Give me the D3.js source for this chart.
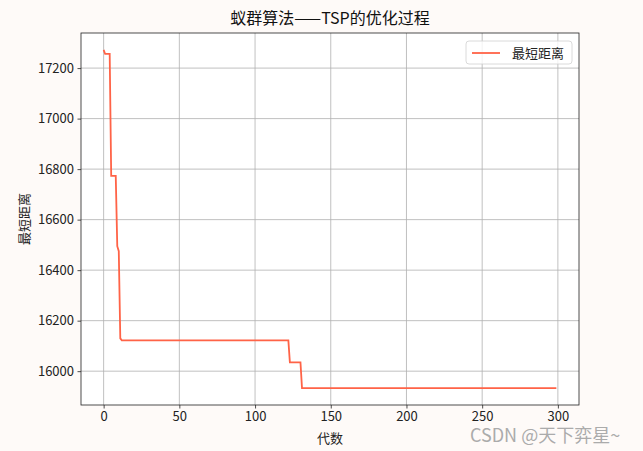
<!DOCTYPE html>
<html>
<head>
<meta charset="utf-8">
<script src="https://cdn.jsdelivr.net/npm/d3@7"></script>
<style>
  body { margin: 0; background: #fefaf8; }
  text { font-family: "Noto Sans CJK SC", "Noto Sans", sans-serif; }
</style>
</head>
<body>
<div class="chart"></div>
<script>
var svgWidth = 643;
var svgHeight = 451;

var margin = { top: 33, right: 64, bottom: 46, left: 81 };
var width = svgWidth - margin.left - margin.right;
var height = svgHeight - margin.top - margin.bottom;

// generations where the best distance changes (held flat in between)
var gens = [0, 1, 4, 5, 8, 9, 10, 11, 12, 122, 123, 130, 131, 299];
var dist = [17272, 17256, 17256, 16773, 16773, 16495, 16475, 16130, 16122, 16122, 16035, 16035, 15933, 15933];

var xTicks = [0, 50, 100, 150, 200, 250, 300];
var yTicks = [16000, 16200, 16400, 16600, 16800, 17000, 17200];

var svg = d3.select(".chart")
  .append("svg")
  .attr("width", svgWidth)
  .attr("height", svgHeight);

svg.append("rect")
  .attr("width", svgWidth)
  .attr("height", svgHeight)
  .attr("fill", "#fefaf8");

var chartGroup = svg.append("g")
  .attr("transform", `translate(${margin.left}, ${margin.top})`);

// matplotlib style 5% padding
var xMin = d3.min(gens), xMax = d3.max(gens);
var yMin = d3.min(dist), yMax = d3.max(dist);
var xPad = (xMax - xMin) * 0.05, yPad = (yMax - yMin) * 0.05;

var xScale = d3.scaleLinear()
  .domain([xMin - xPad, xMax + xPad])
  .range([0, width]);

var yScale = d3.scaleLinear()
  .domain([yMin - yPad, yMax + yPad])
  .range([height, 0]);

chartGroup.append("rect")
  .attr("width", width)
  .attr("height", height)
  .attr("fill", "white");

// grid
chartGroup.append("g")
  .selectAll("line")
  .data(xTicks)
  .enter()
  .append("line")
  .attr("x1", d => xScale(d))
  .attr("x2", d => xScale(d))
  .attr("y1", 0)
  .attr("y2", height)
  .attr("stroke", "#b0b0b0")
  .attr("stroke-width", 0.8);

chartGroup.append("g")
  .selectAll("line")
  .data(yTicks)
  .enter()
  .append("line")
  .attr("x1", 0)
  .attr("x2", width)
  .attr("y1", d => yScale(d))
  .attr("y2", d => yScale(d))
  .attr("stroke", "#b0b0b0")
  .attr("stroke-width", 0.8);

// the line
var line = d3.line()
  .x((d, i) => xScale(gens[i]))
  .y(d => yScale(d));

chartGroup.append("path")
  .datum(dist)
  .attr("d", line)
  .attr("fill", "none")
  .attr("stroke", "tomato")
  .attr("stroke-width", 1.8);

// axes
var bottomAxis = d3.axisBottom(xScale).tickValues(xTicks).tickSize(3.5).tickPadding(3.5);
var leftAxis = d3.axisLeft(yScale).tickValues(yTicks).tickSize(3.5).tickPadding(3.5).tickFormat(d3.format("d"));

var xAxis = chartGroup.append("g")
  .attr("transform", `translate(0, ${height})`)
  .call(bottomAxis);

var yAxis = chartGroup.append("g")
  .call(leftAxis);

[xAxis, yAxis].forEach(function (ax) {
  ax.select(".domain").remove();
  ax.selectAll(".tick line").attr("stroke", "#222").attr("stroke-width", 0.8);
  ax.selectAll(".tick text")
    .attr("fill", "#222")
    .style("font-size", "13px")
    .style("font-family", "'Noto Sans CJK SC', sans-serif");
});

// frame
chartGroup.append("rect")
  .attr("width", width)
  .attr("height", height)
  .attr("fill", "none")
  .attr("stroke", "#222")
  .attr("stroke-width", 0.8);

// title and axis labels
svg.append("text")
  .attr("x", margin.left + width / 2)
  .attr("y", 24)
  .attr("text-anchor", "middle")
  .attr("fill", "#111")
  .style("font-size", "16px")
  .text("蚁群算法——TSP的优化过程");

svg.append("text")
  .attr("x", margin.left + width / 2)
  .attr("y", 443)
  .attr("text-anchor", "middle")
  .attr("fill", "#222")
  .style("font-size", "13px")
  .text("代数");

svg.append("text")
  .attr("transform", `translate(29, ${margin.top + height / 2}) rotate(-90)`)
  .attr("text-anchor", "middle")
  .attr("fill", "#222")
  .style("font-size", "13px")
  .text("最短距离");

// legend
var legend = chartGroup.append("g")
  .attr("transform", `translate(${width - 113}, 8)`);

legend.append("rect")
  .attr("width", 106)
  .attr("height", 23)
  .attr("rx", 3)
  .attr("fill", "white")
  .attr("fill-opacity", 0.8)
  .attr("stroke", "#d0d0d0")
  .attr("stroke-width", 0.8);

legend.append("line")
  .attr("x1", 6)
  .attr("x2", 34)
  .attr("y1", 12)
  .attr("y2", 12)
  .attr("stroke", "tomato")
  .attr("stroke-width", 1.8);

legend.append("text")
  .attr("x", 46)
  .attr("y", 16.5)
  .attr("fill", "#222")
  .style("font-size", "13px")
  .text("最短距离");

// watermark
svg.append("text")
  .attr("x", 470)
  .attr("y", 442)
  .attr("fill", "#ababab")
  .style("font-size", "18px")
  .text("CSDN @天下弈星~");
</script>
</body>
</html>
